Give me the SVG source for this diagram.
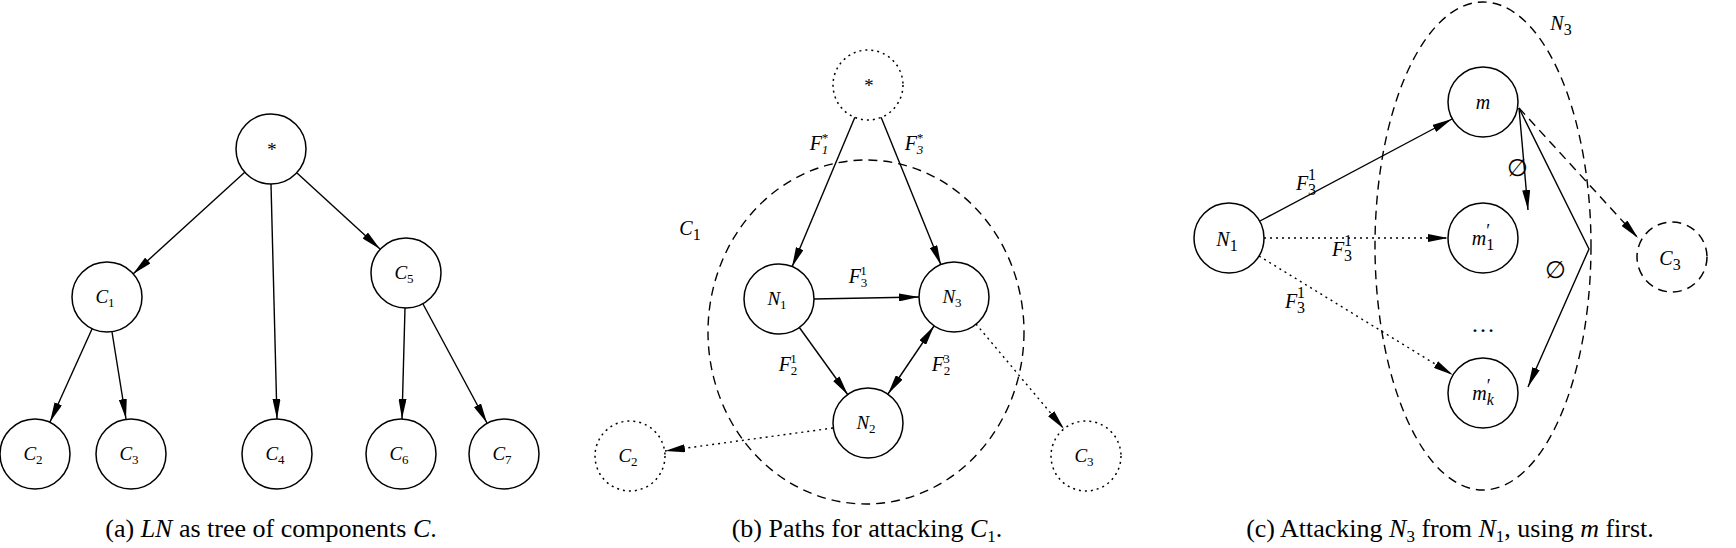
<svg xmlns="http://www.w3.org/2000/svg" width="1736" height="548" viewBox="0 0 1736 548" font-family="'Liberation Serif','DejaVu Serif',serif">
<defs>
<marker id="ah" viewBox="0 0 20 8" refX="20" refY="4" markerWidth="20" markerHeight="8" markerUnits="userSpaceOnUse" orient="auto-start-reverse"><path d="M0,0 L20,4 L0,8 z" fill="#000"/></marker>
<style>
.n{fill:#fff;stroke:#000;stroke-width:1.5}
.dot{stroke-dasharray:2,4}
.dash{stroke-dasharray:9,6}
.e{stroke:#000;stroke-width:1.4;fill:none;marker-end:url(#ah)}
text{font-family:'Liberation Serif','DejaVu Serif',serif;fill:#000;text-anchor:middle}
.m{font-style:italic;font-size:19px}
.lb{font-style:italic;font-size:20px}
.cap{font-size:26px}
</style>
</defs>
<rect width="1736" height="548" fill="#fff"/>
<g id="connectors">
<line class="e" x1="245" y1="172" x2="133" y2="274"/>
<line class="e" x1="271" y1="184" x2="277" y2="419"/>
<line class="e" x1="297" y1="173" x2="380" y2="249"/>
<line class="e" x1="92" y1="329" x2="50" y2="422"/>
<line class="e" x1="112" y1="332" x2="126" y2="419"/>
<line class="e" x1="405" y1="308" x2="402" y2="419"/>
<line class="e" x1="423" y1="304" x2="487" y2="423"/>
<line class="e" x1="855" y1="117" x2="792" y2="267"/>
<line class="e" x1="881" y1="117" x2="941" y2="265"/>
<line class="e" x1="814" y1="299" x2="919" y2="297"/>
<line class="e" x1="799" y1="327" x2="848" y2="395"/>
<line class="e" x1="888" y1="394" x2="934" y2="326" style="marker-start:url(#ah)"/>
<line class="e dot" x1="833" y1="428" x2="665" y2="451"/>
<line class="e dot" x1="976" y1="324" x2="1064" y2="429"/>
<line class="e" x1="1260" y1="221" x2="1452" y2="119"/>
<line class="e dot" x1="1264" y1="238" x2="1448" y2="238"/>
<line class="e dot" x1="1259" y1="256" x2="1453" y2="375"/>
<line class="e" x1="1519" y1="108" x2="1528" y2="210"/>
<polyline class="e" points="1519,108 1589,249 1528,387"/>
<line class="e dash" x1="1519" y1="108" x2="1638" y2="238"/>
</g>
<g id="labels">
<text class="lb" x="819" y="150">F<tspan font-size="13" dy="4">1</tspan><tspan font-size="13" dx="-7" dy="-12">*</tspan></text>
<text class="lb" x="914" y="150">F<tspan font-size="13" dy="4">3</tspan><tspan font-size="13" dx="-7" dy="-12">*</tspan></text>
<text class="lb" x="858" y="283">F<tspan font-size="13" dy="4" font-style="normal">3</tspan><tspan font-size="13" dx="-7" dy="-12" font-style="normal">1</tspan></text>
<text class="lb" x="788" y="371">F<tspan font-size="13" dy="4" font-style="normal">2</tspan><tspan font-size="13" dx="-7" dy="-12" font-style="normal">1</tspan></text>
<text class="lb" x="941" y="371">F<tspan font-size="13" dy="4" font-style="normal">2</tspan><tspan font-size="13" dx="-7" dy="-12" font-style="normal">3</tspan></text>
<text class="lb" x="690" y="235" font-size="24">C<tspan font-size="16" dy="5" font-style="normal">1</tspan></text>
<text class="lb" x="1306" y="190" font-size="24">F<tspan font-size="16" dy="5" font-style="normal">3</tspan><tspan font-size="16" dx="-8" dy="-15" font-style="normal">1</tspan></text>
<text class="lb" x="1342" y="256" font-size="24">F<tspan font-size="16" dy="5" font-style="normal">3</tspan><tspan font-size="16" dx="-8" dy="-15" font-style="normal">1</tspan></text>
<text class="lb" x="1295" y="308" font-size="24">F<tspan font-size="16" dy="5" font-style="normal">3</tspan><tspan font-size="16" dx="-8" dy="-15" font-style="normal">1</tspan></text>
<text x="1517" y="176" font-size="24">∅</text>
<text x="1555" y="278" font-size="24">∅</text>
<text x="1483" y="332" font-size="24">…</text>
<text class="lb" x="1561" y="30" font-size="24">N<tspan font-size="16" dy="5" font-style="normal">3</tspan></text>
</g>
<g id="n_star_a"><circle class="n" cx="271" cy="149" r="35"/><text class="m" x="271" y="156">*</text></g>
<g id="n_C1"><circle class="n" cx="107" cy="297" r="35"/><text class="m" x="105" y="303">C<tspan font-size="13" dy="4" font-style="normal">1</tspan></text></g>
<g id="n_C5"><circle class="n" cx="406" cy="273" r="35"/><text class="m" x="404" y="279">C<tspan font-size="13" dy="4" font-style="normal">5</tspan></text></g>
<g id="n_C2"><circle class="n" cx="35" cy="454" r="35"/><text class="m" x="33" y="460">C<tspan font-size="13" dy="4" font-style="normal">2</tspan></text></g>
<g id="n_C3"><circle class="n" cx="131" cy="454" r="35"/><text class="m" x="129" y="460">C<tspan font-size="13" dy="4" font-style="normal">3</tspan></text></g>
<g id="n_C4"><circle class="n" cx="277" cy="454" r="35"/><text class="m" x="275" y="460">C<tspan font-size="13" dy="4" font-style="normal">4</tspan></text></g>
<g id="n_C6"><circle class="n" cx="401" cy="454" r="35"/><text class="m" x="399" y="460">C<tspan font-size="13" dy="4" font-style="normal">6</tspan></text></g>
<g id="n_C7"><circle class="n" cx="504" cy="454" r="35"/><text class="m" x="502" y="460">C<tspan font-size="13" dy="4" font-style="normal">7</tspan></text></g>
<g id="b_C1"><ellipse class="dash" cx="866" cy="332" rx="158" ry="172" fill="none" stroke="#000" stroke-width="1.4"/></g>
<g id="n_star_b"><circle class="n dot" cx="868" cy="85" r="35"/><text class="m" x="868" y="92">*</text></g>
<g id="n_N1"><circle class="n" cx="779" cy="299" r="35"/><text class="m" x="777" y="305">N<tspan font-size="13" dy="4" font-style="normal">1</tspan></text></g>
<g id="n_N3"><circle class="n" cx="954" cy="297" r="35"/><text class="m" x="952" y="303">N<tspan font-size="13" dy="4" font-style="normal">3</tspan></text></g>
<g id="n_N2"><circle class="n" cx="868" cy="423" r="35"/><text class="m" x="866" y="429">N<tspan font-size="13" dy="4" font-style="normal">2</tspan></text></g>
<g id="n_C2b"><circle class="n dot" cx="630" cy="456" r="35"/><text class="m" x="628" y="462">C<tspan font-size="13" dy="4" font-style="normal">2</tspan></text></g>
<g id="n_C3b"><circle class="n dot" cx="1086" cy="456" r="35"/><text class="m" x="1084" y="462">C<tspan font-size="13" dy="4" font-style="normal">3</tspan></text></g>
<g id="c_N3"><ellipse class="dash" cx="1483" cy="246" rx="108" ry="244" fill="none" stroke="#000" stroke-width="1.4"/></g>
<g id="n_m"><circle class="n" cx="1483" cy="102" r="35"/><text class="lb" x="1483" y="109" font-size="24">m</text></g>
<g id="n_m1"><circle class="n" cx="1483" cy="238" r="35"/><text class="lb" x="1483" y="245" font-size="24">m<tspan font-size="18" dy="-8" font-style="normal">′</tspan><tspan font-size="16" dx="-4" dy="13" font-style="normal">1</tspan></text></g>
<g id="n_mk"><circle class="n" cx="1483" cy="393" r="35"/><text class="lb" x="1483" y="400" font-size="24">m<tspan font-size="18" dy="-8" font-style="normal">′</tspan><tspan font-size="16" dx="-4" dy="13">k</tspan></text></g>
<g id="n_N1c"><circle class="n" cx="1229" cy="238" r="35"/><text class="lb" x="1227" y="246" font-size="24">N<tspan font-size="16" dy="5" font-style="normal">1</tspan></text></g>
<g id="n_C3c"><circle class="n dash" cx="1672" cy="257" r="35"/><text class="lb" x="1670" y="265" font-size="24">C<tspan font-size="16" dy="5" font-style="normal">3</tspan></text></g>
<g id="captions">
<text class="cap" x="271" y="537">(a) <tspan font-style="italic">LN</tspan> as tree of components <tspan font-style="italic">C</tspan>.</text>
<text class="cap" x="867" y="537">(b) Paths for attacking <tspan font-style="italic">C</tspan><tspan font-size="17" dy="5">1</tspan><tspan dy="-5">.</tspan></text>
<text class="cap" x="1450" y="537">(c) Attacking <tspan font-style="italic">N</tspan><tspan font-size="17" dy="5">3</tspan><tspan dy="-5"> from </tspan><tspan font-style="italic">N</tspan><tspan font-size="17" dy="5">1</tspan><tspan dy="-5">, using </tspan><tspan font-style="italic">m</tspan> first.</text>
</g>
</svg>
